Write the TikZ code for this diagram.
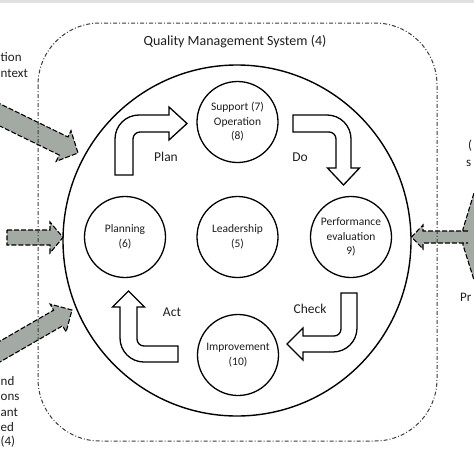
\documentclass[tikz,border=0pt]{standalone}
\usepackage{fontspec}
\setmainfont{Carlito}
\definecolor{arrowgray}{RGB}{163,170,163}
\definecolor{txtgray}{RGB}{30,30,30}
\definecolor{framegray}{RGB}{60,60,60}
\begin{document}
\begin{tikzpicture}[x=1pt,y=-1pt,
  circ/.style={circle,draw,line width=1.3pt,minimum size=81pt,inner sep=0pt,align=center,
    font=\fontsize{11.5}{14.5}\selectfont,text=txtgray},
  lbl/.style={font=\fontsize{13.5}{16}\selectfont,text=txtgray,inner sep=0pt},
  side/.style={font=\fontsize{13}{15.3}\selectfont,text=txtgray,inner sep=0pt},
  garrow/.style={fill=arrowgray,draw=black,line width=1.1pt,dash pattern=on 5pt off 2pt},
  warrow/.style={fill=white,draw=black,line width=1.3pt,line join=miter},
  frame/.style={draw=framegray,line width=1pt,dash pattern=on 4pt off 2pt on 1pt off 2pt}]
\useasboundingbox (0,0) rectangle (474,474);
\fill[black!12] (0,0) rectangle (474,2.5);

% big circle
\draw[line width=1.4pt] (237,240.5) ellipse [x radius=174, y radius=175.5];

% gray input arrows
\draw[garrow] (-16.5,95.8) -- (68.0,137.0) -- (71.0,130.7) -- (78,153) -- (56.2,161.3) -- (59.2,155.0) -- (-25.3,113.8);
\draw[garrow] (7,230) -- (50,230) -- (50,222) -- (63,237.5) -- (50,253) -- (50,245) -- (7,245) -- cycle;
\draw[garrow] (-27.8,357.2) -- (53.6,310.2) -- (50.1,304.1) -- (72,310) -- (66.1,331.9) -- (62.6,325.8) -- (-18.8,372.8);
\draw[garrow] (480,190) -- (474,193) -- (463,229) -- (463,245) -- (474,280) -- (480,283);
\draw[garrow] (468,231) -- (423,231) -- (423,225) -- (411.5,237) -- (423,249) -- (423,243) -- (468,243);

% frame
\draw[frame,rounded corners=62pt] (38,23) rectangle (437,441);

\node[font=\fontsize{14}{16}\selectfont,text=txtgray] (title) at (235,42) {Quality Management System (4)};

% circles
\node[circ] (support) at (237.5,122) {Support (7)\\Operation\\(8)};
\node[circ] (planning) at (125,237) {Planning\\(6)};
\node[circ] (leader) at (237.5,237) {Leadership\\(5)};
\node[circ] (perf) at (351,237) {Performance\\evaluation\\9)};
\node[circ] (improve) at (238,355) {Improvement\\(10)};

% white bent arrows
\draw[warrow] (115,175) -- (115,139) .. controls (115,125.7) and (125.7,115) .. (139,115)
  -- (169,115) -- (169,107) -- (187,123.5) -- (169,140) -- (169,132) -- (140,132)
  .. controls (136.1,132) and (133,135.1) .. (133,139) -- (133,175) -- cycle;
\draw[warrow] (293,115) -- (327,115) .. controls (340.3,115) and (351,125.7) .. (351,139)
  -- (351,168) -- (359.5,168) -- (343.5,185) -- (327.5,168) -- (336,168) -- (336,139)
  .. controls (336,135.1) and (332.9,132) .. (329,132) -- (293,132) -- cycle;
\draw[warrow] (341,293) -- (357,293) -- (357,328) .. controls (357,341.3) and (346.3,352) .. (333,352)
  -- (303,352) -- (303,360) -- (287,344) -- (303,328) -- (303,336) -- (334,336)
  .. controls (337.9,336) and (341,332.9) .. (341,329) -- cycle;
\draw[warrow] (178,346) -- (178,362) -- (144,362) .. controls (130.7,362) and (120,351.3) .. (120,338)
  -- (120,307) -- (112.5,307) -- (128.5,291) -- (144.5,307) -- (137,307) -- (137,339)
  .. controls (137,342.9) and (140.1,346) .. (144,346) -- cycle;

% cycle labels
\node[lbl] (plan) at (166,157) {Plan};
\node[lbl] (do) at (300,157) {Do};
\node[lbl] (check) at (310,309) {Check};
\node[lbl] (act) at (172,312) {Act};

% side texts (cut in the reference)
\node[side,anchor=west] (l1) at (0.5,57) {tion};
\node[side,anchor=west] (l2) at (0.5,73) {ntext};
\node[side,anchor=west] (b1) at (0.5,381) {nd};
\node[side,anchor=west] (b2) at (0.5,397) {ons};
\node[side,anchor=west] (b3) at (0.5,412) {ant};
\node[side,anchor=west] (b4) at (0.5,427) {ed};
\node[side,anchor=west] (b5) at (0.5,442) {(4)};
\node[side,anchor=west] (r0) at (468,146) {(};
\node[side,anchor=west] (r1) at (466,163) {s};
\node[side,anchor=west] (r2) at (460,297) {Pr};
\end{tikzpicture}
\end{document}
